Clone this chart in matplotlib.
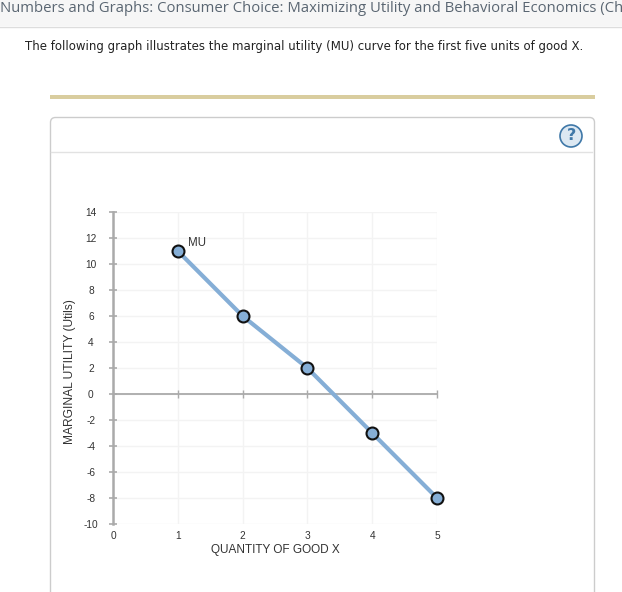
import matplotlib
matplotlib.use('Agg')
import matplotlib.pyplot as plt
from matplotlib.patches import FancyBboxPatch, Rectangle, Circle

plt.rcParams['axes.unicode_minus'] = False

W, H = 622, 592

quantity = [1, 2, 3, 4, 5]
marginal_utility = [11, 6, 2, -3, -8]
x_ticks = [0, 1, 2, 3, 4, 5]
y_ticks = [14, 12, 10, 8, 6, 4, 2, 0, -2, -4, -6, -8, -10]

header_text = 'Numbers and Graphs: Consumer Choice: Maximizing Utility and Behavioral Economics (Ch'
intro_text = 'The following graph illustrates the marginal utility (MU) curve for the first five units of good X.'

fig = plt.figure(figsize=(W / 100, H / 100), dpi=100, facecolor='white')

# page around the chart, in pixel coordinates
page = fig.add_axes([0, 0, 1, 1])
page.set_xlim(0, W)
page.set_ylim(H, 0)
page.axis('off')

page.add_patch(Rectangle((0, 0), W, 26, fc='#f6f6f6', ec='none'))
page.plot([0, W], [26.5, 26.5], color='#dddddd', lw=1)
page.text(0, 8, header_text, family='Open Sans', fontsize=10.75, color='#5a6672',
          va='center', ha='left', clip_on=True)
page.text(25, 46.5, intro_text, family='DejaVu Sans', fontsize=8.44, color='#222222',
          va='center', ha='left')
page.add_patch(Rectangle((50, 95), 545, 4, fc='#d9cd9f', ec='none'))

# card, runs off the bottom of the picture
page.add_patch(FancyBboxPatch((50.5, 117.5), 544, 520, boxstyle='round,pad=0,rounding_size=5',
                              fc='white', ec='#cccccc', lw=1))
page.plot([51, 592], [151.5, 151.5], color='#e2e2e2', lw=1)
page.add_patch(Circle((571, 136), 11, fc='#dce8f2', ec='#3f78a8', lw=1.2))
page.text(571, 136, '?', family='DejaVu Sans', fontsize=11.5, fontweight='bold',
          color='#3f78a8', ha='center', va='center')

# plot area
left, right, top, bottom = 113, 437, 212, 524
ax = fig.add_axes([left / W, 1 - bottom / H, (right - left) / W, (bottom - top) / H])
ax.patch.set_alpha(0)
ax.set_xlim(0, 5)
ax.set_ylim(-10, 14)
ax.set_xticks(x_ticks)
ax.set_yticks(y_ticks)
ax.grid(True, color='#f3f3f3', lw=1)
ax.set_axisbelow(True)
for name in ['top', 'right', 'bottom']:
    ax.spines[name].set_visible(False)
ax.spines['left'].set_color('#aaaaaa')
ax.spines['left'].set_linewidth(1.8)

ax.tick_params(axis='y', length=5.8, width=1.2, color='#aaaaaa', labelcolor='#333333', pad=13,
               direction='inout')
ax.tick_params(axis='x', length=0, labelcolor='#333333', pad=5)
for lab in ax.get_xticklabels() + ax.get_yticklabels():
    lab.set_family('Liberation Sans')
    lab.set_fontsize(7.3)
for lab in ax.get_yticklabels():
    lab.set_ha('center')

# zero line with small ticks across it
ax.axhline(0, color='#aaaaaa', lw=1.3, zorder=2)
ax.plot(x_ticks, [0] * len(x_ticks), ls='none', marker='|', ms=5.5, mew=1, color='#aaaaaa',
        clip_on=False, zorder=2)

ax.plot(quantity, marginal_utility, color='#85aed6', lw=3, zorder=3, clip_on=False,
        solid_capstyle='butt')
ax.plot(quantity, marginal_utility, ls='none', marker='o', ms=8.6, mfc='#85aed6', mec='#111111',
        mew=1.5, zorder=4, clip_on=False)
ax.annotate('MU', (1, 11), xytext=(7, 1.5), textcoords='offset points', family='Liberation Sans',
            fontsize=8.3, color='#333333', va='bottom')

page.text(275.5, 549.5, 'QUANTITY OF GOOD X', family='Liberation Sans', fontsize=8.45,
          color='#333333', ha='center', va='center')
page.text(70.5, 371.5, 'MARGINAL UTILITY (Utils)', family='Liberation Sans', fontsize=8.65,
          color='#333333', ha='center', va='center', rotation=90)

fig.savefig('out.png', dpi=100)
